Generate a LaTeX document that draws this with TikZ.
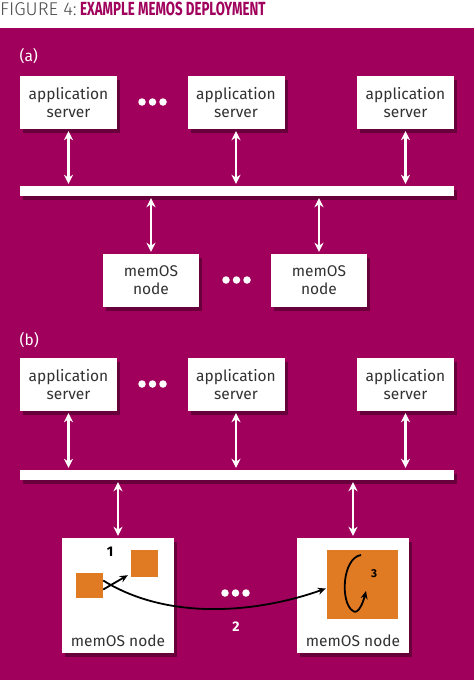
\documentclass[tikz,border=0pt]{standalone}
\usepackage{fontspec}
\setmainfont{Fira Sans}
\newfontfamily\lightfont{Fira Sans}[UprightFont=* Light]
\usetikzlibrary{shadows,arrows.meta}
\definecolor{mag}{RGB}{160,0,92}
\definecolor{org}{RGB}{224,123,36}
\definecolor{txt}{RGB}{50,50,50}
\tikzset{
  box/.style={fill=white, inner sep=0pt, align=center, text=txt,
    font=\fontsize{15.5}{18}\selectfont,
    drop shadow={shadow xshift=3pt, shadow yshift=-4pt, opacity=0.35, fill=black}},
  appbox/.style={box, minimum width=97pt, minimum height=53pt},
  bigbox/.style={box, minimum width=112pt, minimum height=115pt},
  barbox/.style={box, minimum width=434pt, minimum height=10pt},
  link/.style={white, line width=2.2pt, {Stealth[length=9pt,width=9pt]}-{Stealth[length=9pt,width=9pt]}},
  dotc/.style={circle, fill=white, inner sep=0pt, minimum size=7.5pt},
  sq/.style={fill=org, inner sep=0pt},
  blk/.style={black, line width=1.8pt, -{Stealth[length=8pt,width=7pt]}},
  lbl/.style={text=white, font=\fontsize{15.5}{17}\selectfont, anchor=west}
}
\begin{document}
\begin{tikzpicture}[x=1pt,y=-1pt]
\useasboundingbox (0,0) rectangle (474,680);
\fill[white] (0,0) rectangle (474,28);
\fill[mag] (0,28) rectangle (474,680);
\node[anchor=base west, inner sep=0pt, text=black!70, font=\lightfont\fontsize{18.5}{18.5}\selectfont] (fig) at (0,15.5) {FIGURE 4:};
\node[anchor=base west, inner sep=0pt, text=mag] (title) at (fig.base east) {\hspace{3pt}\scalebox{0.7}[1]{\bfseries\fontsize{19}{19}\selectfont EXAMPLE MEMOS DEPLOYMENT}};
% (a)
\node[lbl] (la) at (16,56) {(a)};
\node[appbox] (a1) at (68.5,102.5) {application\\server};
\node[appbox] (a2) at (236,102.5) {application\\server};
\node[appbox] (a3) at (405.5,102.5) {application\\server};
\node[dotc] (ad1) at (142,102) {};
\node[dotc] (ad2) at (152.5,102) {};
\node[dotc] (ad3) at (163,102) {};
\node[barbox] (abar) at (237,191) {};
\node[appbox, minimum width=96pt] (m1) at (151,280.5) {memOS\\node};
\node[appbox, minimum width=96pt] (m2) at (319,280.5) {memOS\\node};
\node[dotc] (md1) at (226,280) {};
\node[dotc] (md2) at (236.5,280) {};
\node[dotc] (md3) at (247,280) {};
\draw[link] ([yshift=-2pt]a1.south) -- ([yshift=2pt]a1.south |- abar.north);
\draw[link] ([yshift=-2pt]a2.south) -- ([yshift=2pt]a2.south |- abar.north);
\draw[link] ([yshift=-2pt]a3.south) -- ([yshift=2pt]a3.south |- abar.north);
\draw[link] ([yshift=-2pt]m1.north |- abar.south) -- ([yshift=2pt]m1.north);
\draw[link] ([yshift=-2pt]m2.north |- abar.south) -- ([yshift=2pt]m2.north);
% (b)
\node[lbl] (lb) at (16,340) {(b)};
\node[appbox] (b1) at (68.5,384.5) {application\\server};
\node[appbox] (b2) at (236,384.5) {application\\server};
\node[appbox] (b3) at (405.5,384.5) {application\\server};
\node[dotc] (bd1) at (142,384) {};
\node[dotc] (bd2) at (152.5,384) {};
\node[dotc] (bd3) at (163,384) {};
\node[barbox] (bbar) at (237,475) {};
\node[bigbox] (n1) at (118,595.5) {};
\node[bigbox] (n2) at (353,595.5) {};
\node[text=txt, font=\fontsize{15.5}{18}\selectfont] (n1t) at (118,641) {memOS node};
\node[text=txt, font=\fontsize{15.5}{18}\selectfont] (n2t) at (353,641) {memOS node};
\node[dotc] (nd1) at (225,593) {};
\node[dotc] (nd2) at (235.5,593) {};
\node[dotc] (nd3) at (246,593) {};
\draw[link] ([yshift=-2pt]b1.south) -- ([yshift=2pt]b1.south |- bbar.north);
\draw[link] ([yshift=-2pt]b2.south) -- ([yshift=2pt]b2.south |- bbar.north);
\draw[link] ([yshift=-2pt]b3.south) -- ([yshift=2pt]b3.south |- bbar.north);
\draw[link] ([yshift=-2pt]n1.north |- bbar.south) -- ([yshift=2pt]n1.north);
\draw[link] ([yshift=-2pt]n2.north |- bbar.south) -- ([yshift=2pt]n2.north);
% inside nodes
\node[sq, minimum width=27pt, minimum height=25pt] (s1) at (89.5,585.5) {};
\node[sq, minimum width=27pt, minimum height=27pt] (s2) at (144.5,563.5) {};
\node[sq, minimum width=71pt, minimum height=69pt] (s3) at (362.5,584.5) {};
\draw[blk] ([yshift=-4pt]s1.east) -- ([xshift=-3pt,yshift=2pt]s2.south west);
\coordinate (s3in) at ([xshift=-1pt,yshift=-4pt]s3.west);
\draw[blk] ([yshift=5pt]s1.east) .. controls (170,622) and (260,612) .. (s3in);
\node[font=\bfseries\fontsize{14}{14}\selectfont, text=black] (one) at (110,552) {1};
\node[font=\bfseries\fontsize{14}{14}\selectfont, text=white] (two) at (236,627) {2};
\node[font=\bfseries\fontsize{11.5}{11.5}\selectfont, text=black] (three) at (374,574) {3};
\coordinate (c3a) at (361,555);
\coordinate (c3b) at (353,611);
\coordinate (c3c) at (366,591);
\draw[black, line width=1.8pt] (c3a) .. controls (342,558) and (340,603) .. (c3b);
\draw[blk] (c3b) .. controls (358,615) and (363,603) .. (c3c);
\end{tikzpicture}
\end{document}
